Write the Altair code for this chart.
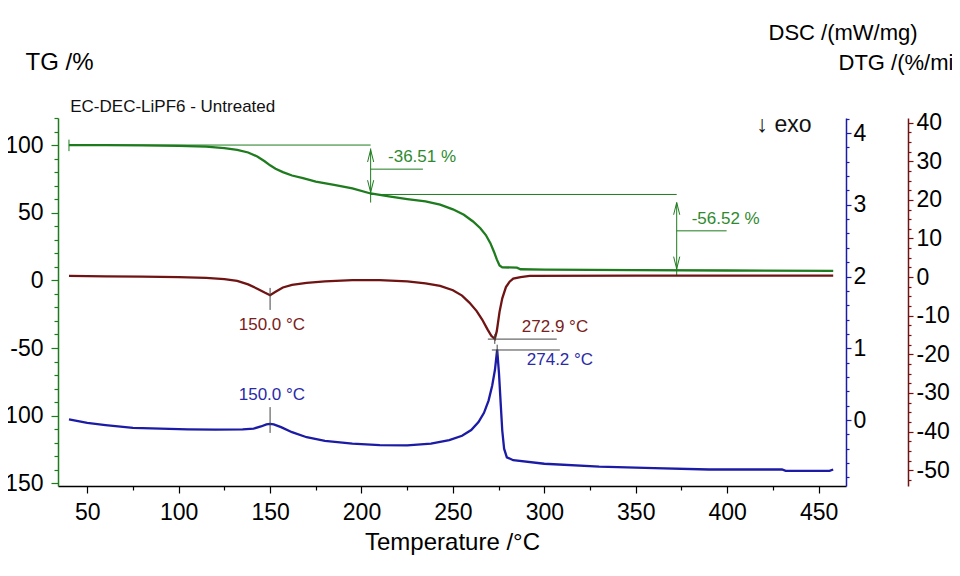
import altair as alt
import pandas as pd

FONT = "Liberation Sans"
GREEN = "#1e7b1e"
RED = "#6f1313"
BLUE = "#1b1ba6"
GREEN_TXT = "#2f8a2f"
RED_TXT = "#7a2020"
BLUE_TXT = "#2a2aa8"

# ---------------- data ----------------
tg_temp = [40, 60, 80, 100, 115, 125, 132, 138, 143, 147, 150, 153, 157, 162, 168, 175, 185, 195,
           205, 215, 225, 235, 243, 250, 256, 261, 265, 268, 270.5, 272.5, 274, 275.5, 277, 285,
           287, 300, 350, 400, 458]
tg_val = [100, 99.9, 99.7, 99.4, 98.8, 97.8, 96.5, 94.5, 91.5, 88, 85, 82.5, 80, 77.5, 75.5, 73,
          70.5, 68, 64.2, 62, 60, 58.3, 56, 52.5, 48.5, 43.5, 38.5, 33.5, 27.5, 21, 15.5, 11, 9.6,
          9.4, 8.2, 8.0, 7.6, 7.3, 7.0]

dtg_temp = [40, 60, 80, 100, 115, 125, 132, 138, 143, 147, 150, 153, 157, 162, 170, 180, 195, 210,
            225, 235, 243, 250, 255, 259, 263, 266, 269, 271, 272.9, 274, 275.5, 277, 279, 281,
            283, 287, 292, 350, 400, 458]
dtg_val = [0.3, 0.2, 0.1, 0.0, -0.2, -0.5, -1.0, -1.9, -3.0, -4.0, -4.7, -3.8, -2.7, -2.0, -1.5,
           -1.1, -0.8, -0.8, -1.1, -1.6, -2.3, -3.4, -4.8, -6.6, -8.8, -11, -13.6, -15.2, -16.0,
           -14, -9, -5.5, -2.6, -1.2, -0.4, 0.0, 0.3, 0.4, 0.4, 0.4]

dsc_temp = [40, 50, 60, 75, 90, 105, 120, 135, 141, 145, 148, 150, 152, 156, 162, 170, 180, 195,
            210, 225, 238, 248, 255, 260, 264, 267, 269.5, 271.5, 273, 274.2, 275.2, 276.2, 277,
            278, 279.5, 283, 300, 330, 360, 390, 430, 432, 456, 458]
dsc_val = [0.01, -0.04, -0.07, -0.11, -0.12, -0.13, -0.135, -0.13, -0.12, -0.09, -0.06, -0.055,
           -0.06, -0.1, -0.17, -0.24, -0.29, -0.33, -0.35, -0.355, -0.33, -0.28, -0.22, -0.14,
           -0.03, 0.1, 0.27, 0.48, 0.7, 0.98, 0.65, 0.2, -0.15, -0.4, -0.52, -0.56, -0.61, -0.65,
           -0.67, -0.69, -0.69, -0.71, -0.71, -0.69]

# annotation lines (t, t2, v, v2)
tg_rule_t = [40, 40, 205, 205, 205, 372.4, 372.4]
tg_rule_t2 = [205, 40, 372.4, 205, 233.6, 372.4, 399.7]
tg_rule_v = [100, 104, 63.49, 97.5, 82.2, 57.5, 36.6]
tg_rule_v2 = [100, 95.5, 63.49, 57.5, 82.2, 3.5, 36.6]
tg_up_t = [205, 372.4]
tg_up_v = [92, 53]
tg_down_t = [205, 372.4]
tg_down_v = [69.5, 13]
tg_labels = ["-36.51 %", "-56.52 %"]
tg_label_t = [214.5, 380.6]
tg_label_v = [91.1, 45.3]
sample_name = ["EC-DEC-LiPF6 - Untreated"]
sample_t = [40.7]
sample_v = [128]

dtg_rule_t = [150, 269.1, 272.9]
dtg_rule_t2 = [150, 306.8, 272.9]
dtg_rule_v = [-2.8, -16.06, -14.8]
dtg_rule_v2 = [-8.5, -16.06, -17.3]
dtg_labels_c = ["150.0 °C"]
dtg_label_c_t = [151]
dtg_label_c_v = [-12.4]
dtg_labels_l = ["272.9 °C"]
dtg_label_l_t = [287.7]
dtg_label_l_v = [-12.95]

dsc_rule_t = [150, 271.3, 274.2]
dsc_rule_t2 = [150, 308.5, 274.2]
dsc_rule_v = [0.18, 0.976, 1.05]
dsc_rule_v2 = [-0.18, 0.976, 0.9]
dsc_labels_c = ["150.0 °C"]
dsc_label_c_t = [151]
dsc_label_c_v = [0.35]
dsc_labels_l = ["274.2 °C"]
dsc_label_l_t = [290.4]
dsc_label_l_v = [0.836]
exo_text = ["↓ exo"]
exo_t = [416.1]
exo_v = [4.11]

x_ticks = list(range(50, 451, 25))
tg_ticks = list(range(-150, 121, 10))
dsc_ticks = [round(i * 0.2, 1) for i in range(-4, 22)]
dtg_ticks = [i / 2 for i in range(-105, 81, 5)]

# ---------------- scales & axes ----------------
x_scale = alt.Scale(domain=[34, 465], nice=False, zero=False)
tg_scale = alt.Scale(domain=[-152, 120], nice=False, zero=False)
dsc_scale = alt.Scale(domain=[-0.92, 4.21], nice=False, zero=False)
dtg_scale = alt.Scale(domain=[-54.1, 41.2], nice=False, zero=False)

common = dict(grid=False, labelFont=FONT, labelFontSize=23, labelColor="black",
              titleFont=FONT, titleFontWeight="normal", titleColor="black",
              labelOverlap=False, labelFlush=False)

x_axis = alt.Axis(orient="bottom", title="Temperature /°C", values=x_ticks,
                  labelExpr="datum.value % 50 === 0 ? '' + datum.value : ''",
                  tickSize={"condition": {"test": "datum.value % 50 === 0", "value": 7}, "value": 4},
                  domainColor="black", tickColor="black", domainWidth=1.5, tickWidth=1.2,
                  labelPadding=8, titleFontSize=24, titleBaseline="alphabetic", titleY=63,
                  **common)

tg_axis = alt.Axis(orient="left", title="TG /%", values=tg_ticks,
                   labelExpr="datum.value % 50 === 0 ? '' + datum.value : ''",
                   tickSize={"condition": {"test": "datum.value % 50 === 0", "value": 7}, "value": 4},
                   domainColor=GREEN, tickColor=GREEN, domainWidth=1.5, tickWidth=1.2,
                   labelPadding=8, titleFontSize=24, titleAngle=0, titleAlign="left",
                   titleBaseline="middle", titleX=-33, titleY=-56, **common)

dsc_axis = alt.Axis(orient="right", title="DSC /(mW/mg)", values=dsc_ticks,
                    labelExpr="abs(datum.value - round(datum.value)) < 0.01 ? '' + round(datum.value) : ''",
                    tickSize={"condition": {"test": "abs(datum.value - round(datum.value)) < 0.01", "value": 5},
                              "value": 3},
                    domainColor=BLUE, tickColor=BLUE, domainWidth=1.5, tickWidth=1.2,
                    labelPadding=2, titleFontSize=22, titleAngle=0, titleAlign="left",
                    titleBaseline="middle", titleX=-78, titleY=-86, **common)

dtg_axis = alt.Axis(orient="right", offset=62, title="DTG /(%/min)", values=dtg_ticks,
                    labelExpr="datum.value % 10 === 0 ? '' + datum.value : ''",
                    tickSize={"condition": {"test": "datum.value % 10 === 0", "value": 5}, "value": 3},
                    domainColor=RED, tickColor=RED, domainWidth=1.5, tickWidth=1.2,
                    labelPadding=3, titleFontSize=22, titleAngle=0, titleAlign="left",
                    titleBaseline="middle", titleX=-70, titleY=-56, **common)


def X():
    return alt.X("t:Q", scale=x_scale, axis=x_axis)


def X2():
    return alt.X2("t2:Q")


UP = "M-0.5,1L0,-1L0.5,1"
DOWN = "M-0.5,-1L0,1L0.5,-1"


def group(scale, axis, temp, val, color, rules, texts, points=()):
    Y = lambda: alt.Y("v:Q", scale=scale, axis=axis)
    line = alt.Chart(pd.DataFrame({"t": temp, "v": val})).mark_line(
        color=color, strokeWidth=2.3).encode(x=X(), y=Y())
    layers = [line]
    rt, rt2, rv, rv2, rcolor = rules
    layers.append(alt.Chart(pd.DataFrame({"t": rt, "t2": rt2, "v": rv, "v2": rv2})).mark_rule(
        color=rcolor, strokeWidth=1).encode(x=X(), x2=X2(), y=Y(), y2=alt.Y2("v2:Q")))
    for (pt, pv, shape, pcolor) in points:
        layers.append(alt.Chart(pd.DataFrame({"t": pt, "v": pv})).mark_point(
            shape=shape, filled=False, size=150, color=pcolor, strokeWidth=1,
            opacity=1).encode(x=X(), y=Y()))
    for (lab, lt, lv, align, tcolor, size) in texts:
        layers.append(alt.Chart(pd.DataFrame({"t": lt, "v": lv, "s": lab})).mark_text(
            align=align, baseline="middle", font=FONT, fontSize=size, color=tcolor).encode(
            x=X(), y=Y(), text="s:N"))
    return alt.layer(*layers)


tg_group = group(
    tg_scale, tg_axis, tg_temp, tg_val, GREEN,
    (tg_rule_t, tg_rule_t2, tg_rule_v, tg_rule_v2, GREEN),
    [(tg_labels, tg_label_t, tg_label_v, "left", GREEN_TXT, 17),
     (sample_name, sample_t, sample_v, "left", "#111111", 17)],
    [(tg_up_t, tg_up_v, UP, GREEN), (tg_down_t, tg_down_v, DOWN, GREEN)])

dsc_group = group(
    dsc_scale, dsc_axis, dsc_temp, dsc_val, BLUE,
    (dsc_rule_t, dsc_rule_t2, dsc_rule_v, dsc_rule_v2, "#444444"),
    [(dsc_labels_c, dsc_label_c_t, dsc_label_c_v, "center", BLUE_TXT, 17),
     (dsc_labels_l, dsc_label_l_t, dsc_label_l_v, "left", BLUE_TXT, 17),
     (exo_text, exo_t, exo_v, "left", "#111111", 23)])

dtg_group = group(
    dtg_scale, dtg_axis, dtg_temp, dtg_val, RED,
    (dtg_rule_t, dtg_rule_t2, dtg_rule_v, dtg_rule_v2, "#444444"),
    [(dtg_labels_c, dtg_label_c_t, dtg_label_c_v, "center", RED_TXT, 17),
     (dtg_labels_l, dtg_label_l_t, dtg_label_l_v, "left", RED_TXT, 17)])

chart = alt.layer(tg_group, dsc_group, dtg_group).resolve_scale(y="independent").properties(
    width=788, height=368,
    autosize=alt.AutoSizeParams(type="none"),
    padding={"left": 50, "top": 110, "right": 106, "bottom": 82},
    background="white",
).configure_view(strokeWidth=0)

chart.save("out.html", embed_options={"renderer": "svg", "actions": False})
